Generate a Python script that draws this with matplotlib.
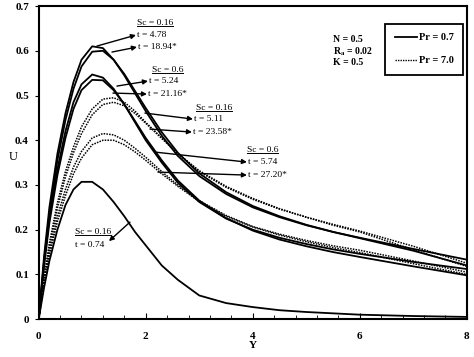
import matplotlib
matplotlib.use("Agg")
import matplotlib.pyplot as plt
from matplotlib.lines import Line2D
import numpy as np

plt.rcParams['font.family'] = ['Liberation Serif', 'DejaVu Serif']
plt.rcParams['mathtext.fontset'] = 'stix'

Y = [0, 0.1, 0.2, 0.35, 0.5, 0.65, 0.8, 1.0, 1.2, 1.4, 1.6, 1.8, 2.0,
     2.3, 2.6, 3.0, 3.5, 4.0, 4.5, 5.0, 5.5, 6.0, 7.0, 8.0]

# Pr = 0.7 (solid)
u_sc016_t478 = [0, .14, .25, .37, .46, .53, .58, .61, .606, .58, .545, .505, .465,
                .41, .365, .32, .28, .25, .228, .21, .195, .182, .157, .133]
u_sc016_t1894 = [0, .13, .235, .355, .445, .515, .565, .598, .6, .58, .548, .51, .472,
                 .418, .372, .326, .284, .253, .23, .211, .195, .181, .153, .12]
u_sc06_t524 = [0, .125, .225, .335, .42, .485, .525, .547, .54, .515, .48, .44, .40,
               .35, .305, .262, .225, .20, .182, .168, .156, .146, .128, .112]
u_sc06_t2116 = [0, .118, .215, .322, .405, .47, .512, .535, .534, .512, .48, .443, .405,
                .355, .31, .265, .226, .198, .178, .163, .15, .139, .118, .098]
u_sc016_t074 = [0, .07, .13, .20, .255, .29, .307, .307, .29, .262, .23, .195, .165,
                .12, .088, .053, .036, .027, .02, .016, .013, .01, .007, .005]

# Pr = 7.0 (dotted)
u_sc016_t511 = [0, .095, .17, .26, .33, .385, .43, .47, .492, .495, .485, .465, .44,
                .405, .37, .33, .295, .268, .246, .228, .212, .197, .163, .125]
u_sc016_t2358 = [0, .09, .16, .248, .318, .372, .415, .457, .48, .485, .477, .46, .438,
                 .404, .37, .332, .297, .27, .247, .228, .21, .195, .155, .118]
u_sc06_t574 = [0, .085, .15, .23, .29, .34, .375, .405, .415, .412, .40, .382, .362,
               .33, .30, .265, .232, .207, .19, .176, .164, .154, .13, .105]
u_sc06_t2720 = [0, .08, .142, .218, .276, .325, .36, .39, .40, .40, .39, .374, .355,
                .325, .297, .263, .23, .206, .188, .173, .16, .149, .124, .10]

solid = [u_sc016_t478, u_sc016_t1894, u_sc06_t524, u_sc06_t2116, u_sc016_t074]
dotted = [u_sc016_t511, u_sc016_t2358, u_sc06_t574, u_sc06_t2720]

fig = plt.figure(figsize=(4.74, 3.57), dpi=100)
ax = fig.add_axes([0.0816, 0.106, 0.9034, 0.877])

for u in solid:
    ax.plot(Y, u, color='black', lw=1.3)
for u in dotted:
    ax.plot(Y, u, color='black', lw=1.1, linestyle=(0, (1, 0.8)))

ax.set_xlim(0, 8)
ax.set_ylim(0, 0.7)
ax.set_xticks([0, 2, 4, 6, 8])
ax.set_xticks(np.arange(0, 8.01, 0.4), minor=True)
ax.set_yticks(np.arange(0, 0.71, 0.1))
ax.set_yticklabels(['0', '0.1', '0.2', '0.3', '0.4', '0.5', '0.6', '0.7'])
ax.tick_params(axis='x', which='major', direction='in', length=4, pad=9, labelsize=8)
ax.tick_params(axis='x', which='minor', direction='in', length=3)
ax.tick_params(axis='y', direction='out', length=3, pad=4, labelsize=8)
for lab in ax.get_xticklabels() + ax.get_yticklabels():
    lab.set_fontweight('bold')
for sp in ax.spines.values():
    sp.set_linewidth(1.5)

ax.set_xlabel('Y', fontweight='bold', fontsize=8, labelpad=0)
ax.set_ylabel('U', fontsize=9, rotation=0, labelpad=12)
ax.yaxis.set_label_coords(-0.06, 0.5)

# legend
h1 = Line2D([], [], color='black', lw=1.3)
h2 = Line2D([], [], color='black', lw=1.0, linestyle=(0, (1, 0.8)))
leg = ax.legend([h1, h2], ['Pr = 0.7', 'Pr = 7.0'], loc='upper left',
                bbox_to_anchor=(0.797, 0.96), fancybox=False, framealpha=1,
                edgecolor='black', handlelength=2.2, handletextpad=0.1,
                labelspacing=1.3, borderpad=0.9, prop={'weight': 'bold', 'size': 7.5})
leg.get_frame().set_linewidth(1.3)

ax.text(5.5, 0.635, 'N = 0.5\nR$_\\mathregular{a}$ = 0.02\nK = 0.5', fontsize=7,
        fontweight='bold', va='top', linespacing=1.1)

arrow = dict(arrowstyle='-|>', color='black', lw=1.0, mutation_scale=7,
             shrinkA=0, shrinkB=0)
tsize = 6.8

def px(xp, yp):
    return ((xp - 38.7) / 53.54, (319 - yp) / 447.1)

headers = []
headers.append(ax.text(*px(137, 23), 'Sc = 0.16', fontsize=tsize, va='center'))
headers.append(ax.text(*px(152, 70), 'Sc = 0.6', fontsize=tsize, va='center'))
headers.append(ax.text(*px(196, 108), 'Sc = 0.16', fontsize=tsize, va='center'))
headers.append(ax.text(*px(247, 150), 'Sc = 0.6', fontsize=tsize, va='center'))
headers.append(ax.text(*px(75, 232), 'Sc = 0.16', fontsize=tsize, va='center'))

notes = [
    ('t = 4.78', (97, 46), (136, 35)),
    ('t = 18.94*', (112, 52), (137, 47)),
    ('t = 5.24', (117, 86), (148, 81)),
    ('t = 21.16*', (113, 93), (147, 94)),
    ('t = 5.11', (145, 113), (193, 119)),
    ('t = 23.58*', (150, 129), (192, 132)),
    ('t = 5.74', (155, 152), (247, 162)),
    ('t = 27.20*', (158, 172), (247, 175)),
]
for txt, a, b in notes:
    ax.annotate('', xy=px(*b), xytext=px(*a), arrowprops=arrow)
    ax.text(*px(b[0] + 1, b[1]), txt, fontsize=tsize, va='center')

ax.text(*px(75, 245), 't = 0.74', fontsize=tsize, va='center')
ax.annotate('', xy=px(109, 241), xytext=px(130, 222), arrowprops=arrow)

# underline the Sc headers
fig.canvas.draw()
r = fig.canvas.get_renderer()
inv = fig.transFigure.inverted()
for t in headers:
    bb = t.get_window_extent(r)
    (x0, y0), (x1, _) = inv.transform([(bb.x0, bb.y0 + 1), (bb.x1, bb.y0 + 1)])
    fig.add_artist(Line2D([x0, x1], [y0, y0], color='black', lw=0.7))

fig.savefig('out.png', dpi=100)
